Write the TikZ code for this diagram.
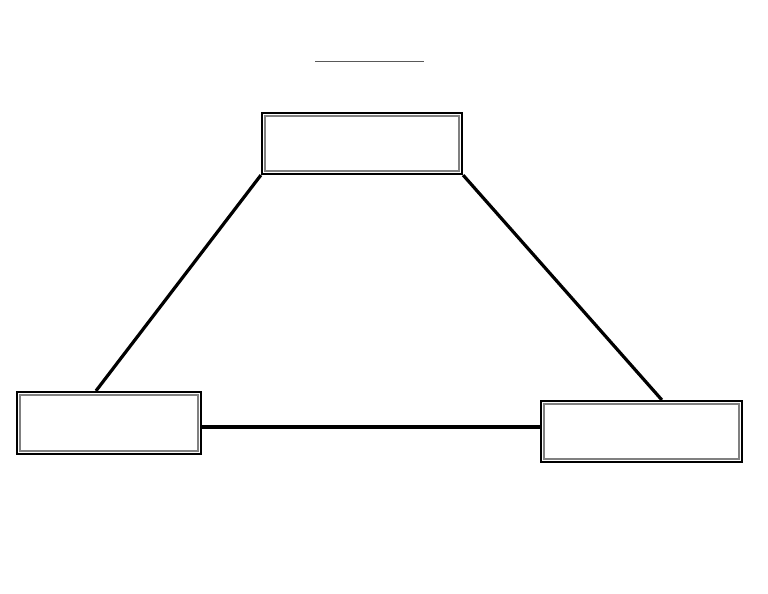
\documentclass[tikz,border=0pt]{standalone}
\usepackage{tikz}
\usetikzlibrary{calc,positioning}
\tikzstyle{box}=[rectangle, draw=black, line width=2.2, inner sep=0pt, fill=white,
    path picture={\draw[gray, line width=1.2] ([shift={(3pt,-3pt)}]path picture bounding box.north west) rectangle ([shift={(-3pt,3pt)}]path picture bounding box.south east);}]
\tikzstyle{l1}=[line width=3.2]
\tikzstyle{rule}=[line width=1, gray!70!black]

\begin{document}
\begin{tikzpicture}[x=1pt, y=-1pt]
    \useasboundingbox (0,0) rectangle (768,594);

    \coordinate (r0) at (315,62);
    \coordinate (r1) at (424,62);
    \draw[rule] (r0) -- (r1);

    \node[box, minimum width=200pt, minimum height=61pt] at (362,143.5) (top) {};
    \node[box, minimum width=184pt, minimum height=62pt] at (109,423) (left) {};
    \node[box, minimum width=201pt, minimum height=61pt] at (641.5,431.5) (right) {};

    \draw[l1] (top.south west) -- ($(left.north west)!0.43!(left.north east)$);
    \draw[l1] (top.south east) -- ($(right.north west)!0.6!(right.north east)$);
    \draw[l1] ([yshift=-4pt]left.east) -- ([yshift=4.5pt]right.west);

\end{tikzpicture}
\end{document}
